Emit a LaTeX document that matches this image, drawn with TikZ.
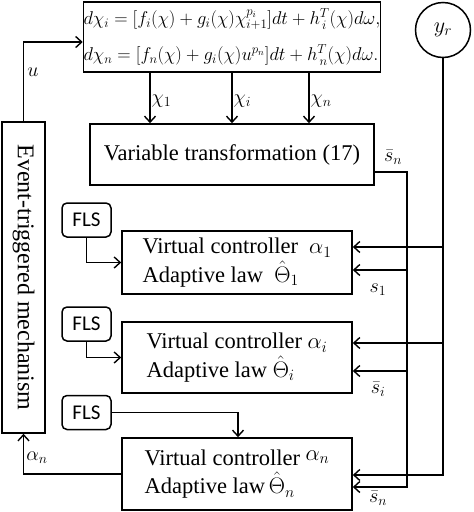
\documentclass[tikz,border=0pt]{standalone}
\usepackage{fix-cm}
\usepackage{fontspec}
\setmainfont{Liberation Serif}
\newfontfamily\flsfont{Carlito}
\usetikzlibrary{arrows.meta}
\begin{document}
\begin{tikzpicture}[x=1pt,y=-1pt,
  box/.style={draw, line width=1.6pt, inner sep=0pt},
  flsbox/.style={draw, line width=1.5pt, rounded corners=5pt, minimum width=49pt, minimum height=34pt, inner sep=0pt, font=\flsfont\fontsize{21}{24}\selectfont},
  conn/.style={line width=1.4pt},
  arr/.style={conn, -{Straight Barb[length=6pt,width=11pt,line width=1.4pt]}},
  lbl/.style={font=\fontsize{20}{24}\selectfont, inner sep=1pt},
  txt/.style={font=\fontsize{22.5}{28.5}\selectfont}]
\useasboundingbox (0,0) rectangle (474,512);
% column / row coordinates
\coordinate (xa) at (150,0);
\coordinate (xb) at (232,0);
\coordinate (xc) at (309,0);
\coordinate (xs) at (407,0);
\coordinate (x3) at (238,0);
\coordinate (ys0) at (0,172);
\coordinate (r1a) at (0,247);
\coordinate (r1b) at (0,270);
\coordinate (r2a) at (0,343);
\coordinate (r2b) at (0,371);
\coordinate (r3a) at (0,475);
\coordinate (r3b) at (0,487);
% nodes
\node[box, minimum width=284pt, minimum height=70pt, font=\fontsize{18.5}{36}\selectfont, align=left] (sys) at (232,37)
  {$d\chi_i=[f_i(\chi)+g_i(\chi)\chi_{i+1}^{p_i}]dt+h_{\,i}^T(\chi)d\omega,$\\
   $d\chi_n=[f_n(\chi)+g_i(\chi)u^{p_n}]dt+h_{\,n}^T(\chi)d\omega.$};
\node[box, minimum width=284pt, minimum height=61pt, txt] (vt) at (232,154.5) {Variable transformation (17)};
\node[draw, circle, line width=1.5pt, minimum size=55pt, inner sep=0pt, font=\fontsize{22}{26}\selectfont] (yr) at (443,30) {$y_r$};
\node[box, minimum width=43pt, minimum height=311pt] (etm) at (23.5,277.5) {};
\node[rotate=-90, font=\fontsize{24}{28}\selectfont] (etmtext) at (etm.center) {Event-triggered mechanism};
\node[flsbox] (fls1) at (86.5,220) {FLS};
\node[flsbox] (fls2) at (86.5,324) {FLS};
\node[flsbox] (fls3) at (86.5,412.5) {FLS};
\node[box, minimum width=230pt, minimum height=63pt, txt, align=left] (b1) at (237,262.5)
  {Virtual controller~~$\alpha_1$\\Adaptive law~~$\hat{\Theta}_1$};
\node[box, minimum width=230pt, minimum height=71pt, txt, align=left] (b2) at (237,357.5)
  {Virtual controller $\alpha_i$\\Adaptive law $\hat{\Theta}_i$};
\node[box, minimum width=230pt, minimum height=72pt, txt, align=left] (b3) at (237,474)
  {Virtual controller \raisebox{5pt}{$\alpha_n$}\\Adaptive law$\,\hat{\Theta}_n$};
% connectors
\draw[arr] (etm.north) |- ([yshift=-5pt]sys.west);
\draw[arr] (sys.south -| xa) -- node[lbl,right,yshift=-3pt]{$\chi_1$} (vt.north -| xa);
\draw[arr] (sys.south -| xb) -- node[lbl,right,yshift=-3pt]{$\chi_i$} (vt.north -| xb);
\draw[arr] (sys.south -| xc) -- node[lbl,right,yshift=-3pt]{$\chi_n$} (vt.north -| xc);
\draw[arr] (vt.east |- ys0) -| (xs |- r3b) -- (b3.east |- r3b);
\draw[arr] (xs |- r1b) -- (b1.east |- r1b);
\draw[arr] (xs |- r2b) -- (b2.east |- r2b);
\draw[arr] (yr.south) |- (b3.east |- r3a);
\draw[arr] (yr.south |- r1a) -- (b1.east |- r1a);
\draw[arr] (yr.south |- r2a) -- (b2.east |- r2a);
\draw[arr] (fls1.south) |- (b1.west);
\draw[arr] (fls2.south) |- (b2.west);
\draw[arr] (fls3.east) -| (b3.north -| x3);
\draw[arr] (b3.west) -| (etm.south);
% labels
\node[lbl] (lu) at (33,72) {$u$};
\node[lbl] (lsn) at (393,157) {$\bar{s}_n$};
\node[lbl] (ls1) at (378,290) {$s_1$};
\node[lbl] (lsi) at (378,389) {$\bar{s}_i$};
\node[lbl] (lsn2) at (378,498) {$\bar{s}_n$};
\node[lbl] (lan) at (37,458) {$\alpha_n$};
\end{tikzpicture}
\end{document}
